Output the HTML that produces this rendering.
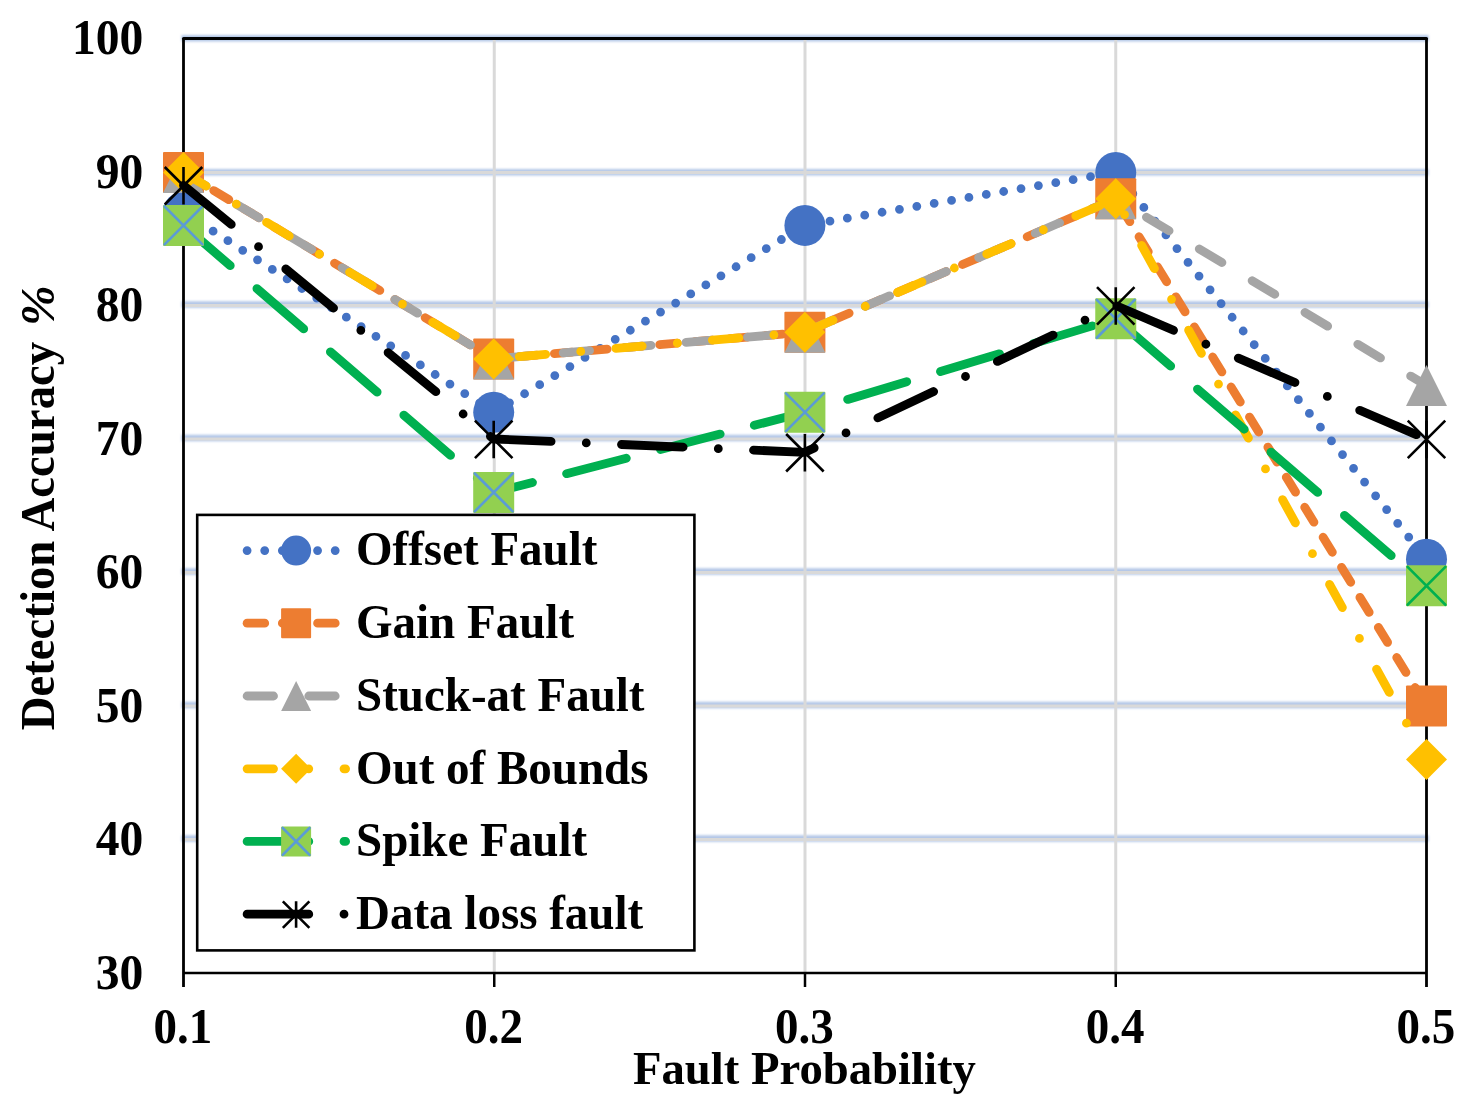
<!DOCTYPE html>
<html lang="en"><head><meta charset="utf-8"><title>Detection Accuracy vs Fault Probability</title>
<style>html,body{margin:0;padding:0;background:#fff}body{width:1470px;height:1114px;overflow:hidden}svg{display:block}text{font-family:"Liberation Serif",serif;font-weight:bold;fill:#000}</style></head><body>
<svg width="1470" height="1114" viewBox="0 0 1470 1114">
<defs><filter id="gl" filterUnits="userSpaceOnUse" x="0" y="0" width="1470" height="1114"><feGaussianBlur stdDeviation="1.2"/></filter></defs>
<rect width="1470" height="1114" fill="#fff"/>
<g>
<line x1="181.5" y1="38.3" x2="1428.5" y2="38.3" stroke="#B4C7E7" stroke-width="6.5" filter="url(#gl)"/>
<line x1="181.5" y1="172.2" x2="1428.5" y2="172.2" stroke="#B4C7E7" stroke-width="6.5" filter="url(#gl)"/>
<line x1="181.5" y1="304.6" x2="1428.5" y2="304.6" stroke="#B4C7E7" stroke-width="6.5" filter="url(#gl)"/>
<line x1="181.5" y1="438.1" x2="1428.5" y2="438.1" stroke="#B4C7E7" stroke-width="6.5" filter="url(#gl)"/>
<line x1="181.5" y1="571.6" x2="1428.5" y2="571.6" stroke="#B4C7E7" stroke-width="6.5" filter="url(#gl)"/>
<line x1="181.5" y1="705.1" x2="1428.5" y2="705.1" stroke="#B4C7E7" stroke-width="6.5" filter="url(#gl)"/>
<line x1="181.5" y1="838.6" x2="1428.5" y2="838.6" stroke="#B4C7E7" stroke-width="6.5" filter="url(#gl)"/>
<line x1="183.5" y1="172.4" x2="1426.5" y2="172.4" stroke="#D9D9D9" stroke-width="3"/>
<line x1="183.5" y1="305.5" x2="1426.5" y2="305.5" stroke="#D9D9D9" stroke-width="3"/>
<line x1="183.5" y1="439.0" x2="1426.5" y2="439.0" stroke="#D9D9D9" stroke-width="3"/>
<line x1="183.5" y1="572.5" x2="1426.5" y2="572.5" stroke="#D9D9D9" stroke-width="3"/>
<line x1="183.5" y1="706.0" x2="1426.5" y2="706.0" stroke="#D9D9D9" stroke-width="3"/>
<line x1="183.5" y1="839.5" x2="1426.5" y2="839.5" stroke="#D9D9D9" stroke-width="3"/>
</g>
<line x1="494.25" y1="38.5" x2="494.25" y2="973.0" stroke="#D9D9D9" stroke-width="3"/>
<line x1="805.00" y1="38.5" x2="805.00" y2="973.0" stroke="#D9D9D9" stroke-width="3"/>
<line x1="1115.75" y1="38.5" x2="1115.75" y2="973.0" stroke="#D9D9D9" stroke-width="3"/>
<path d="M183.5 987.0V38.5M1426.5 987.0V38.5" fill="none" stroke="#000" stroke-width="2.8"/>
<line x1="183.5" y1="38.5" x2="1426.5" y2="38.5" stroke="#000" stroke-width="3" stroke-linecap="round"/>
<line x1="183.5" y1="973.0" x2="1426.5" y2="973.0" stroke="#000" stroke-width="2.5"/>
<line x1="494.25" y1="973.0" x2="494.25" y2="987.0" stroke="#000" stroke-width="2.5"/>
<line x1="805.00" y1="973.0" x2="805.00" y2="987.0" stroke="#000" stroke-width="2.5"/>
<line x1="1115.75" y1="973.0" x2="1115.75" y2="987.0" stroke="#000" stroke-width="2.5"/>
<polyline points="183.50,212.05 493.70,412.30 804.90,225.40 1115.75,172.40 1426.50,559.15" fill="none" stroke="#4472C4" stroke-width="8.8" stroke-linecap="round" stroke-linejoin="round" stroke-dasharray="0.00 17.62"/>
<circle cx="183.50" cy="212.05" r="20.50" fill="#4472C4"/>
<circle cx="493.70" cy="412.30" r="20.50" fill="#4472C4"/>
<circle cx="804.90" cy="225.40" r="20.50" fill="#4472C4"/>
<circle cx="1115.75" cy="172.40" r="20.50" fill="#4472C4"/>
<circle cx="1426.50" cy="559.15" r="20.50" fill="#4472C4"/>
<polyline points="183.50,172.40 493.70,358.90 804.90,332.20 1115.75,198.70 1426.50,706.00" fill="none" stroke="#ED7D31" stroke-width="8.8" stroke-linecap="round" stroke-linejoin="round" stroke-dasharray="17.62 17.62"/>
<rect x="163.00" y="151.90" width="41.00" height="41.00" rx="1" fill="#ED7D31"/>
<rect x="473.20" y="338.40" width="41.00" height="41.00" rx="1" fill="#ED7D31"/>
<rect x="784.40" y="311.70" width="41.00" height="41.00" rx="1" fill="#ED7D31"/>
<rect x="1095.25" y="178.20" width="41.00" height="41.00" rx="1" fill="#ED7D31"/>
<rect x="1406.00" y="685.50" width="41.00" height="41.00" rx="1" fill="#ED7D31"/>
<polyline points="183.50,172.40 493.70,358.90 804.90,332.20 1115.75,198.70 1426.50,385.60" fill="none" stroke="#A5A5A5" stroke-width="8.8" stroke-linecap="round" stroke-linejoin="round" stroke-dasharray="26.43 35.24"/>
<polygon points="183.50,151.90 204.00,192.90 163.00,192.90" fill="#A5A5A5"/>
<polygon points="493.70,338.40 514.20,379.40 473.20,379.40" fill="#A5A5A5"/>
<polygon points="804.90,311.70 825.40,352.70 784.40,352.70" fill="#A5A5A5"/>
<polygon points="1115.75,178.20 1136.25,219.20 1095.25,219.20" fill="#A5A5A5"/>
<polygon points="1426.50,365.10 1447.00,406.10 1406.00,406.10" fill="#A5A5A5"/>
<polyline points="183.50,172.40 493.70,358.90 804.90,332.20 1115.75,198.70 1426.50,759.40" fill="none" stroke="#FFC000" stroke-width="8.8" stroke-linecap="round" stroke-linejoin="round" stroke-dasharray="26.43 35.24 0.00 35.24"/>
<polygon points="183.50,151.90 204.00,172.40 183.50,192.90 163.00,172.40" fill="#FFC000"/>
<polygon points="493.70,338.40 514.20,358.90 493.70,379.40 473.20,358.90" fill="#FFC000"/>
<polygon points="804.90,311.70 825.40,332.20 804.90,352.70 784.40,332.20" fill="#FFC000"/>
<polygon points="1115.75,178.20 1136.25,198.70 1115.75,219.20 1095.25,198.70" fill="#FFC000"/>
<polygon points="1426.50,738.90 1447.00,759.40 1426.50,779.90 1406.00,759.40" fill="#FFC000"/>
<polyline points="183.50,225.40 493.70,492.40 804.90,412.30 1115.75,318.85 1426.50,585.85" fill="none" stroke="#00B050" stroke-width="8.8" stroke-linecap="round" stroke-linejoin="round" stroke-dasharray="61.67 35.24"/>
<rect x="163.00" y="204.90" width="41.00" height="41.00" rx="1" fill="#92D050"/><path d="M164.60 206.50L202.40 244.30M202.40 206.50L164.60 244.30" stroke="#5B9BD5" stroke-width="2.6" stroke-linecap="round" fill="none"/>
<rect x="473.20" y="471.90" width="41.00" height="41.00" rx="1" fill="#92D050"/><path d="M474.80 473.50L512.60 511.30M512.60 473.50L474.80 511.30" stroke="#5B9BD5" stroke-width="2.6" stroke-linecap="round" fill="none"/>
<rect x="784.40" y="391.80" width="41.00" height="41.00" rx="1" fill="#92D050"/><path d="M786.00 393.40L823.80 431.20M823.80 393.40L786.00 431.20" stroke="#5B9BD5" stroke-width="2.6" stroke-linecap="round" fill="none"/>
<rect x="1095.25" y="298.35" width="41.00" height="41.00" rx="1" fill="#92D050"/><path d="M1096.85 299.95L1134.65 337.75M1134.65 299.95L1096.85 337.75" stroke="#5B9BD5" stroke-width="2.6" stroke-linecap="round" fill="none"/>
<rect x="1406.00" y="565.35" width="41.00" height="41.00" rx="1" fill="#92D050"/><path d="M1407.60 566.95L1445.40 604.75M1445.40 566.95L1407.60 604.75" stroke="#00B050" stroke-width="2.6" stroke-linecap="round" fill="none"/>
<polyline points="183.50,185.35 493.70,439.00 804.90,452.35 1115.75,305.50 1426.50,439.00" fill="none" stroke="#000000" stroke-width="8.8" stroke-linecap="round" stroke-linejoin="round" stroke-dasharray="61.67 35.24 0.00 35.24"/>
<path d="M164.75 167.00L202.25 204.50M202.25 167.00L164.75 204.50M183.50 167.00L183.50 204.50" stroke="#000000" stroke-width="2.6" fill="none"/>
<path d="M474.95 420.65L512.45 458.15M512.45 420.65L474.95 458.15M493.70 420.65L493.70 458.15" stroke="#000000" stroke-width="2.6" fill="none"/>
<path d="M786.15 434.00L823.65 471.50M823.65 434.00L786.15 471.50M804.90 434.00L804.90 471.50" stroke="#000000" stroke-width="2.6" fill="none"/>
<path d="M1097.00 287.15L1134.50 324.65M1134.50 287.15L1097.00 324.65M1115.75 287.15L1115.75 324.65" stroke="#000000" stroke-width="2.6" fill="none"/>
<path d="M1407.75 420.65L1445.25 458.15M1445.25 420.65L1407.75 458.15M1426.50 420.65L1426.50 458.15" stroke="#000000" stroke-width="2.6" fill="none"/>
<rect x="197.2" y="514.9" width="497.2" height="435.5" fill="#fff" stroke="#000" stroke-width="2.6"/>
<line x1="247.1" y1="550.6" x2="345.6" y2="550.6" stroke="#4472C4" stroke-width="8.8" stroke-linecap="round" stroke-dasharray="0.00 17.62"/>
<circle cx="296.10" cy="550.60" r="15.00" fill="#4472C4"/>
<text transform="translate(356.00,565.40) scale(1.0000,1.0200)" font-size="47.00" text-anchor="start">Offset Fault</text>
<line x1="247.1" y1="623.2" x2="345.6" y2="623.2" stroke="#ED7D31" stroke-width="8.8" stroke-linecap="round" stroke-dasharray="17.62 17.62"/>
<rect x="281.10" y="608.20" width="30.00" height="30.00" rx="1" fill="#ED7D31"/>
<text transform="translate(356.00,638.00) scale(1.0000,1.0200)" font-size="47.00" text-anchor="start">Gain Fault</text>
<line x1="247.1" y1="696.0" x2="345.6" y2="696.0" stroke="#A5A5A5" stroke-width="8.8" stroke-linecap="round" stroke-dasharray="26.43 35.24"/>
<polygon points="296.10,681.00 311.10,711.00 281.10,711.00" fill="#A5A5A5"/>
<text transform="translate(356.00,710.80) scale(1.0000,1.0200)" font-size="47.00" text-anchor="start">Stuck-at Fault</text>
<line x1="247.1" y1="768.8" x2="345.6" y2="768.8" stroke="#FFC000" stroke-width="8.8" stroke-linecap="round" stroke-dasharray="26.43 35.24 0.00 35.24"/>
<polygon points="296.10,753.80 311.10,768.80 296.10,783.80 281.10,768.80" fill="#FFC000"/>
<text transform="translate(356.00,783.60) scale(1.0000,1.0200)" font-size="47.00" text-anchor="start">Out of Bounds</text>
<line x1="247.1" y1="841.4" x2="345.6" y2="841.4" stroke="#00B050" stroke-width="8.8" stroke-linecap="round" stroke-dasharray="61.67 35.24"/>
<rect x="281.10" y="826.40" width="30.00" height="30.00" rx="1" fill="#92D050"/><path d="M282.70 828.00L309.50 854.80M309.50 828.00L282.70 854.80" stroke="#5B9BD5" stroke-width="2.6" stroke-linecap="round" fill="none"/>
<text transform="translate(356.00,856.20) scale(1.0000,1.0200)" font-size="47.00" text-anchor="start">Spike Fault</text>
<line x1="247.1" y1="914.2" x2="345.6" y2="914.2" stroke="#000000" stroke-width="8.8" stroke-linecap="round" stroke-dasharray="61.67 35.24 0.00 35.24"/>
<path d="M282.85 901.35L309.35 927.85M309.35 901.35L282.85 927.85M296.10 901.35L296.10 927.85" stroke="#000000" stroke-width="2.6" fill="none"/>
<text transform="translate(356.00,929.00) scale(1.0000,1.0200)" font-size="47.00" text-anchor="start">Data loss fault</text>
<text transform="translate(143.30,54.20) scale(1.0000,1.0450)" font-size="47.60" text-anchor="end">100</text>
<text transform="translate(143.30,188.10) scale(1.0000,1.0450)" font-size="47.60" text-anchor="end">90</text>
<text transform="translate(143.30,321.20) scale(1.0000,1.0450)" font-size="47.60" text-anchor="end">80</text>
<text transform="translate(143.30,454.70) scale(1.0000,1.0450)" font-size="47.60" text-anchor="end">70</text>
<text transform="translate(143.30,588.20) scale(1.0000,1.0450)" font-size="47.60" text-anchor="end">60</text>
<text transform="translate(143.30,721.70) scale(1.0000,1.0450)" font-size="47.60" text-anchor="end">50</text>
<text transform="translate(143.30,855.20) scale(1.0000,1.0450)" font-size="47.60" text-anchor="end">40</text>
<text transform="translate(143.30,988.70) scale(1.0000,1.0450)" font-size="47.60" text-anchor="end">30</text>
<text transform="translate(182.80,1043.30) scale(1.0000,1.0600)" font-size="47.00" text-anchor="middle">0.1</text>
<text transform="translate(493.55,1043.30) scale(1.0000,1.0600)" font-size="47.00" text-anchor="middle">0.2</text>
<text transform="translate(804.30,1043.30) scale(1.0000,1.0600)" font-size="47.00" text-anchor="middle">0.3</text>
<text transform="translate(1115.05,1043.30) scale(1.0000,1.0600)" font-size="47.00" text-anchor="middle">0.4</text>
<text transform="translate(1425.80,1043.30) scale(1.0000,1.0600)" font-size="47.00" text-anchor="middle">0.5</text>
<text transform="translate(804.40,1084.40)" font-size="46.70" text-anchor="middle">Fault Probability</text>
<text transform="translate(54.00,730.30) rotate(-90) scale(1.0000,1.0200)" font-size="46.80" text-anchor="start">Detection Accuracy</text>
<text transform="translate(54.00,326.00) rotate(-90)" font-size="49.00" text-anchor="start" font-style="italic">%</text>
</svg></body></html>
